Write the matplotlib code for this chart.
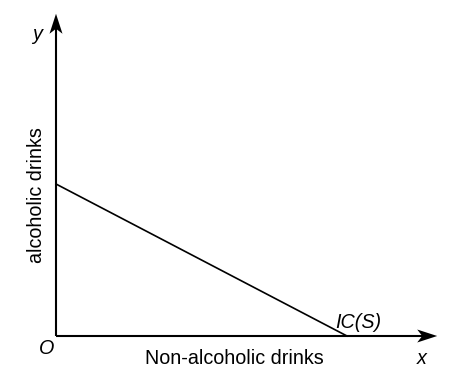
import matplotlib
matplotlib.use("Agg")
import matplotlib.pyplot as plt
from matplotlib.patches import Polygon

plt.rcParams['font.family'] = ['Liberation Sans', 'DejaVu Sans']

# data (arbitrary units)
line_x = [0, 10]
line_y = [5, 0]
x_axis_end = 13.1
y_axis_end = 10.6
x_label = "Non-alcoholic drinks"
y_label = "alcoholic drinks"
curve_label = "IC(S)"

# pixel scale mapping
W, H = 450, 388
ox, oy = 56, 336
ux = (347 - 56) / 10.0
uy = (336 - 184) / 5.0

fig = plt.figure(figsize=(W / 100, H / 100), dpi=100)
ax = fig.add_axes([0, 0, 1, 1])
ax.set_xlim(-ox / ux, (W - ox) / ux)
ax.set_ylim(-(H - oy) / uy, oy / uy)
ax.axis('off')

# axes lines
ax.plot([0, x_axis_end - 0.4], [0, 0], color='black', lw=1.5, solid_capstyle='butt')
ax.plot([0, 0], [0, y_axis_end - 0.4], color='black', lw=1.5, solid_capstyle='butt')

def head(tip, direction):
    L, Wd, notch = 20, 6.5, 5
    tx, ty = tip
    if direction == 'x':
        pts = [(tx, ty), (tx - L / ux, ty + Wd / uy), (tx - (L - notch) / ux, ty), (tx - L / ux, ty - Wd / uy)]
    else:
        pts = [(tx, ty), (tx - Wd / ux, ty - L / uy), (tx, ty - (L - notch) / uy), (tx + Wd / ux, ty - L / uy)]
    ax.add_patch(Polygon(pts, closed=True, color='black', lw=0))

head((x_axis_end, 0), 'x')
head((0, y_axis_end), 'y')

# IC line
ax.plot(line_x, line_y, color='black', lw=1.2)

fs = 14.2
ax.text(-19 / ux, y_axis_end - 21 / uy, 'y', style='italic', fontsize=fs, ha='center', va='center')
ax.text(366 / ux, -22 / uy, 'x', style='italic', fontsize=fs, ha='center', va='center')
ax.text(-9 / ux, -12 / uy, 'O', style='italic', fontsize=fs, ha='center', va='center')
ax.text(279 / ux, 14 / uy, curve_label, style='italic', fontsize=fs, ha='left', va='center')
ax.text(-19 / ux, 141 / uy, y_label, rotation=90, fontsize=fs, ha='center', va='center')
ax.text(178 / ux, -22 / uy, x_label, fontsize=fs, ha='center', va='center')

fig.savefig('out.png', dpi=100)
